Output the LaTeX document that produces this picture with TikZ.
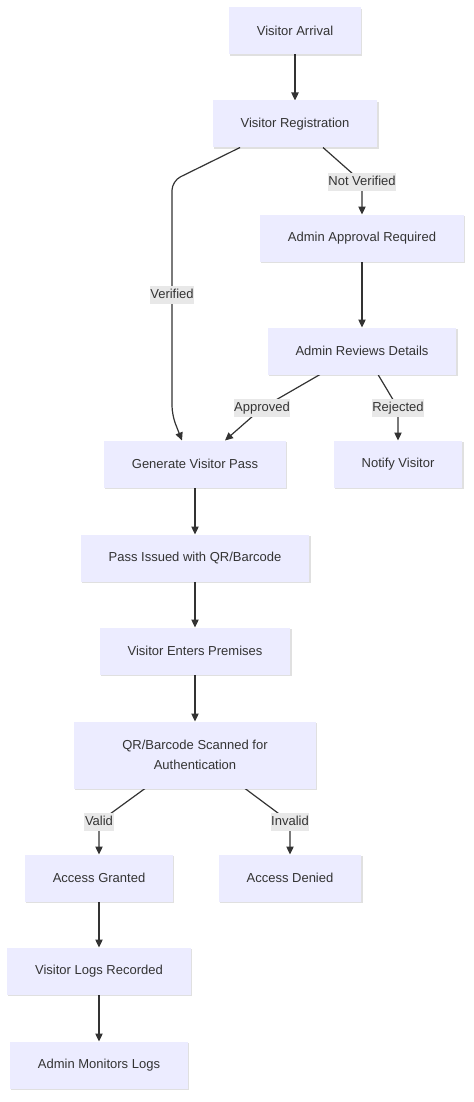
\documentclass[tikz,border=0pt]{standalone}
\usepackage{fontspec}
\setmainfont{Liberation Sans}
\usetikzlibrary{calc,arrows.meta,shadows,backgrounds}
\definecolor{boxfill}{HTML}{ECECFF}
\definecolor{lblfill}{HTML}{E8E8E8}
\definecolor{inkgray}{HTML}{333333}

\begin{document}
\begin{tikzpicture}[
	x=0.75pt, y=-0.75pt,
	font=\fontsize{9.75}{15}\selectfont,
	mynode/.style = {
		rectangle, align=center, fill=boxfill, text=inkgray,
		inner xsep=21pt, inner ysep=0pt, minimum height=35.25pt, outer sep=0pt,
		drop shadow={shadow xshift=0.9pt, shadow yshift=-1pt, fill=black, opacity=0.12}},
	mylabel/.style = {
		rectangle, fill=lblfill, text=inkgray, inner xsep=0.5pt, inner ysep=2pt,
		text height=7.2pt, text depth=2pt},
	arrow/.style = {draw=inkgray, line width=0.9pt,
		-{Triangle[length=6pt,width=5.5pt]}, rounded corners=7pt}
]
\useasboundingbox (0,0) rectangle (474,1102);

\node (arr)   [mynode] at (295,31)   {Visitor Arrival};
\node (reg)   [mynode] at (295,124)  {Visitor Registration};
\node (appr)  [mynode] at (362,238)  {Admin Approval Required};
\node (rev)   [mynode] at (362,351)  {Admin Reviews Details};
\node (gen)   [mynode] at (195,464)  {Generate Visitor Pass};
\node (note)  [mynode] at (398,464)  {Notify Visitor};
\node (pass)  [mynode] at (195,558)  {Pass Issued with QR/Barcode};
\node (enter) [mynode] at (195,651)  {Visitor Enters Premises};
\node (scan)  [mynode, minimum width=181.5pt, minimum height=50.25pt]
              at (195,755)           {QR/Barcode Scanned for\\Authentication};
\node (grant) [mynode] at (99,878)   {Access Granted};
\node (deny)  [mynode] at (290,878)  {Access Denied};
\node (logs)  [mynode] at (99,971)   {Visitor Logs Recorded};
\node (mon)   [mynode] at (99,1065)  {Admin Monitors Logs};

% edge labels
\node (lNV)  [mylabel] at (362,182) {Not Verified};
\node (lVer) [mylabel] at (172,295) {Verified};
\node (lApp) [mylabel] at (262,408) {Approved};
\node (lRej) [mylabel] at (398,408) {Rejected};
\node (lVal) [mylabel] at (99,822)  {Valid};
\node (lInv) [mylabel] at (290,822) {Invalid};

\begin{pgfonlayer}{background}
\draw[arrow] (arr) -- (reg);
\draw[arrow] ($(reg.south)+(28,0)$) -- (lNV.center) -- (appr);
\draw[arrow] ($(reg.south)+(-55,0)$) -- (172,181) -- (lVer.center)
             -- (172,415) -- ($(gen.north)+(-13,0)$);
\draw[arrow] (appr) -- (rev);
\draw[arrow] ($(rev.south)+(-42,0)$) -- (lApp.center) -- ($(gen.north)+(30,0)$);
\draw[arrow] ($(rev.south)+(16,0)$) -- (lRej.center) -- (note);
\draw[arrow] (gen) -- (pass);
\draw[arrow] (pass) -- (enter);
\draw[arrow] (enter) -- (scan);
\draw[arrow] ($(scan.south)+(-50,0)$) -- (lVal.center) -- (grant);
\draw[arrow] ($(scan.south)+(50,0)$) -- (lInv.center) -- (deny);
\draw[arrow] (grant) -- (logs);
\draw[arrow] (logs) -- (mon);
\end{pgfonlayer}
\end{tikzpicture}
\end{document}
